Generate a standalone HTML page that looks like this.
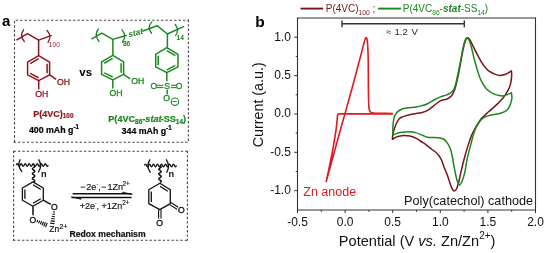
<!DOCTYPE html>
<html><head><meta charset="utf-8"><title>Figure</title>
<style>html,body{margin:0;padding:0;background:#fff;width:550px;height:253px;overflow:hidden} svg{display:block}</style>
</head><body>
<svg width="550" height="253" viewBox="0 0 550 253" font-family="'Liberation Sans', Arial, Helvetica, sans-serif">
<rect width="550" height="253" fill="#fff"/>
<text x="2.0" y="26" font-size="15" fill="#000" font-weight="bold" text-anchor="start" >a</text>
<line x1="15.8" y1="20.3" x2="188.9" y2="20.3" stroke="#444" stroke-width="1.1" stroke-dasharray="2.4 2.0"/>
<line x1="13.6" y1="142.3" x2="188.9" y2="142.3" stroke="#444" stroke-width="1.1" stroke-dasharray="2.4 2.0"/>
<line x1="14.5" y1="20.9" x2="14.5" y2="142.8" stroke="#444" stroke-width="1.1" stroke-dasharray="2.4 2.0"/>
<line x1="188.4" y1="19.8" x2="188.4" y2="142.8" stroke="#444" stroke-width="1.1" stroke-dasharray="2.4 2.0"/>
<polyline points="16.4,40.2 27.5,33.6 38.6,40.1 51.7,35.4" fill="none" stroke="#8e141d" stroke-width="1.5" stroke-linejoin="round"/>
<line x1="38.6" y1="40.1" x2="38.6" y2="55.6" stroke="#8e141d" stroke-width="1.5" />
<path d="M23.60 29.80 Q19.20 35.70 24.40 41.60" fill="none" stroke="#8e141d" stroke-width="1.3" stroke-linecap="round"/>
<path d="M47.10 30.50 Q52.25 36.40 48.00 42.30" fill="none" stroke="#8e141d" stroke-width="1.3" stroke-linecap="round"/>
<text x="48.8" y="47.3" font-size="6.6" fill="#8e141d" font-weight="normal" text-anchor="start" >100</text>
<polygon points="38.70,55.60 49.60,62.20 49.60,74.80 38.70,80.60 27.60,74.80 27.60,62.20" fill="none" stroke="#8e141d" stroke-width="1.5" stroke-linejoin="round"/>
<line x1="30.19" y1="63.57" x2="38.62" y2="58.56" stroke="#8e141d" stroke-width="1.5"/>
<line x1="47.10" y1="63.68" x2="47.10" y2="73.26" stroke="#8e141d" stroke-width="1.5"/>
<line x1="38.63" y1="77.75" x2="30.20" y2="73.34" stroke="#8e141d" stroke-width="1.5"/>
<line x1="49.6" y1="74.8" x2="56.2" y2="79.4" stroke="#8e141d" stroke-width="1.5" />
<line x1="38.7" y1="80.6" x2="38.7" y2="89.4" stroke="#8e141d" stroke-width="1.5" />
<text x="57.0" y="84.5" font-size="8.7" fill="#8e141d" font-weight="normal" text-anchor="start" stroke="#8e141d" stroke-width="0.3">OH</text>
<text x="35.2" y="97.4" font-size="8.7" fill="#8e141d" font-weight="normal" text-anchor="start" stroke="#8e141d" stroke-width="0.3">OH</text>
<text x="79.3" y="75.8" font-size="11.5" fill="#000" font-weight="bold" text-anchor="start" >vs</text>
<text x="33.3" y="116.7" font-size="9" fill="#8e141d" stroke="#8e141d" stroke-width="0.2" font-weight="bold">P(4VC)<tspan font-size="6.4" dy="1.7">100</tspan></text>
<text x="28.9" y="132.7" font-size="8.8" fill="#000" stroke="#000" stroke-width="0.2" font-weight="bold">400 mAh g<tspan font-size="6.3" dy="-3.3">-1</tspan></text>
<polyline points="91.4,39.2 101.8,33.2 112.9,39.4 126.7,35.2" fill="none" stroke="#1c871f" stroke-width="1.5" stroke-linejoin="round"/>
<line x1="112.9" y1="39.4" x2="112.9" y2="55.4" stroke="#1c871f" stroke-width="1.5" />
<path d="M98.30 29.00 Q93.75 35.25 99.00 41.50" fill="none" stroke="#1c871f" stroke-width="1.3" stroke-linecap="round"/>
<path d="M121.90 29.70 Q127.00 35.95 122.50 42.20" fill="none" stroke="#1c871f" stroke-width="1.3" stroke-linecap="round"/>
<text x="122.9" y="46.4" font-size="6.6" fill="#1c871f" font-weight="bold" text-anchor="start" >86</text>
<text x="0" y="0" font-size="8.4" fill="#1c871f" font-weight="bold" font-style="italic" transform="translate(129.0,37.3) rotate(-14)">stat</text>
<polyline points="142.3,31.2 157.1,25.7 167.4,34 184,26.4" fill="none" stroke="#1c871f" stroke-width="1.5" stroke-linejoin="round"/>
<path d="M151.60 22.10 Q146.80 27.65 151.60 33.20" fill="none" stroke="#1c871f" stroke-width="1.3" stroke-linecap="round"/>
<path d="M175.30 24.50 Q179.45 30.00 175.60 35.50" fill="none" stroke="#1c871f" stroke-width="1.3" stroke-linecap="round"/>
<text x="176.6" y="40.4" font-size="6.6" fill="#1c871f" font-weight="bold" text-anchor="start" >14</text>
<line x1="167.4" y1="34" x2="167.4" y2="47.6" stroke="#1c871f" stroke-width="1.5" />
<polygon points="112.80,55.40 123.60,61.90 123.60,74.30 112.80,79.80 101.60,74.30 101.60,61.90" fill="none" stroke="#1c871f" stroke-width="1.5" stroke-linejoin="round"/>
<line x1="104.21" y1="63.27" x2="112.72" y2="58.33" stroke="#1c871f" stroke-width="1.5"/>
<line x1="121.10" y1="63.35" x2="121.10" y2="72.77" stroke="#1c871f" stroke-width="1.5"/>
<line x1="112.74" y1="77.00" x2="104.23" y2="72.82" stroke="#1c871f" stroke-width="1.5"/>
<line x1="123.6" y1="74.3" x2="130.2" y2="78.8" stroke="#1c871f" stroke-width="1.5" />
<line x1="112.8" y1="79.8" x2="112.8" y2="88.6" stroke="#1c871f" stroke-width="1.5" />
<text x="131.2" y="84.0" font-size="8.7" fill="#1c871f" font-weight="normal" text-anchor="start" stroke="#1c871f" stroke-width="0.3">OH</text>
<text x="109.5" y="96.3" font-size="8.7" fill="#1c871f" font-weight="normal" text-anchor="start" stroke="#1c871f" stroke-width="0.3">OH</text>
<polygon points="166.80,47.60 178.00,54.30 178.00,66.80 166.80,72.70 155.70,66.80 155.70,54.30" fill="none" stroke="#1c871f" stroke-width="1.5" stroke-linejoin="round"/>
<line x1="166.88" y1="50.56" x2="175.39" y2="55.65" stroke="#1c871f" stroke-width="1.5"/>
<line x1="158.20" y1="65.27" x2="158.20" y2="55.77" stroke="#1c871f" stroke-width="1.5"/>
<line x1="175.38" y1="65.36" x2="166.86" y2="69.84" stroke="#1c871f" stroke-width="1.5"/>
<line x1="166.8" y1="72.7" x2="166.8" y2="81.2" stroke="#1c871f" stroke-width="1.5" />
<text x="167.2" y="89.3" font-size="8.6" fill="#1c871f" font-weight="normal" text-anchor="middle" stroke="#1c871f" stroke-width="0.3">S</text>
<text x="153.9" y="89.3" font-size="8.6" fill="#1c871f" font-weight="normal" text-anchor="middle" stroke="#1c871f" stroke-width="0.3">O</text>
<text x="179.1" y="89.3" font-size="8.6" fill="#1c871f" font-weight="normal" text-anchor="middle" stroke="#1c871f" stroke-width="0.3">O</text>
<line x1="156.9" y1="85.3" x2="163.3" y2="85.3" stroke="#1c871f" stroke-width="1.1" />
<line x1="156.9" y1="87.6" x2="163.3" y2="87.6" stroke="#1c871f" stroke-width="1.1" />
<line x1="171.0" y1="85.3" x2="176.3" y2="85.3" stroke="#1c871f" stroke-width="1.1" />
<line x1="171.0" y1="87.6" x2="176.3" y2="87.6" stroke="#1c871f" stroke-width="1.1" />
<line x1="167.2" y1="89.8" x2="167.2" y2="94.3" stroke="#1c871f" stroke-width="1.5" />
<text x="166.6" y="101.2" font-size="8.6" fill="#1c871f" font-weight="normal" text-anchor="middle" stroke="#1c871f" stroke-width="0.3">O</text>
<circle cx="174.9" cy="101.7" r="3.7" fill="none" stroke="#1c871f" stroke-width="1.1"/>
<text x="174.9" y="104.2" font-size="8" fill="#1c871f" font-weight="bold" text-anchor="middle" >−</text>
<text x="108.3" y="122.1" font-size="9.1" fill="#1c871f" stroke="#1c871f" stroke-width="0.2" font-weight="bold">P(4VC<tspan font-size="6.5" dy="1.6">86</tspan><tspan dy="-1.6">-</tspan><tspan font-style="italic">stat</tspan><tspan dx="-0.9">-SS</tspan><tspan font-size="6.5" dy="1.6">14</tspan><tspan dy="-1.6">)</tspan></text>
<text x="121.6" y="133.6" font-size="8.8" fill="#000" stroke="#000" stroke-width="0.2" font-weight="bold">344 mAh g<tspan font-size="6.3" dy="-3.3">-1</tspan></text>
<line x1="13.55" y1="151.3" x2="187.9" y2="151.3" stroke="#444" stroke-width="1.1" stroke-dasharray="2.4 2.0"/>
<line x1="13.1" y1="240.3" x2="187.9" y2="240.3" stroke="#444" stroke-width="1.1" stroke-dasharray="2.4 2.0"/>
<line x1="13.6" y1="150.8" x2="13.6" y2="240.8" stroke="#444" stroke-width="1.1" stroke-dasharray="2.4 2.0"/>
<line x1="187.4" y1="150.8" x2="187.4" y2="240.8" stroke="#444" stroke-width="1.1" stroke-dasharray="2.4 2.0"/>
<path d="M16.20 165.00 q1.00 -2.60 2.00 0 q1.00 2.60 2.00 0 q1.00 -2.60 2.00 0 q1.00 2.60 2.00 0 q1.00 -2.60 2.00 0 q1.00 2.60 2.00 0 q1.00 -2.60 2.00 0 q1.00 2.60 2.00 0 q1.00 -2.60 2.00 0 q1.00 2.60 2.00 0 q1.00 -2.60 2.00 0 q1.00 2.60 2.00 0 q1.00 -2.60 2.00 0 q1.00 2.60 2.00 0 q1.00 -2.60 2.00 0 q1.00 2.60 2.00 0" fill="none" stroke="#111" stroke-width="1.35"/>
<path d="M20.10 159.80 Q17.05 165.70 21.80 171.60" fill="none" stroke="#111" stroke-width="1.3" stroke-linecap="round"/>
<path d="M38.90 159.80 Q42.55 165.90 38.40 172.00" fill="none" stroke="#111" stroke-width="1.3" stroke-linecap="round"/>
<path d="M33.60 165.20 q2.40 1.20 0 2.40 q-2.40 1.20 0 2.40 q2.40 1.20 0 2.40 q-2.40 1.20 0 2.40 q2.40 1.20 0 2.40 q-2.40 1.20 0 2.40 q2.40 1.20 0 2.40" fill="none" stroke="#111" stroke-width="1.55"/>
<text x="40.9" y="176.9" font-size="9.2" fill="#111" font-weight="bold" text-anchor="start" >n</text>
<polygon points="33.00,181.90 43.30,188.00 43.30,200.20 33.00,206.20 22.40,200.20 22.40,188.00" fill="none" stroke="#111" stroke-width="1.3" stroke-linejoin="round"/>
<line x1="32.99" y1="184.80" x2="40.82" y2="189.44" stroke="#111" stroke-width="1.3"/>
<line x1="24.90" y1="198.73" x2="24.90" y2="189.46" stroke="#111" stroke-width="1.3"/>
<line x1="40.82" y1="198.75" x2="32.99" y2="203.31" stroke="#111" stroke-width="1.3"/>
<line x1="43.3" y1="200.2" x2="50.8" y2="204.3" stroke="#111" stroke-width="1.5" />
<line x1="33.0" y1="206.2" x2="33.0" y2="215.3" stroke="#111" stroke-width="1.5" />
<text x="54.3" y="209.9" font-size="8.6" fill="#111" font-weight="normal" text-anchor="middle" stroke="#111" stroke-width="0.3">O</text>
<text x="32.9" y="223.1" font-size="8.6" fill="#111" font-weight="normal" text-anchor="middle" stroke="#111" stroke-width="0.3">O</text>
<line x1="54.99" y1="212.04" x2="53.01" y2="211.76" stroke="#111" stroke-width="1.15" />
<line x1="54.93" y1="214.37" x2="52.43" y2="214.03" stroke="#111" stroke-width="1.15" />
<line x1="54.87" y1="216.71" x2="51.85" y2="216.29" stroke="#111" stroke-width="1.15" />
<line x1="54.8" y1="219.05" x2="51.28" y2="218.55" stroke="#111" stroke-width="1.15" />
<line x1="54.74" y1="221.38" x2="50.7" y2="220.82" stroke="#111" stroke-width="1.15" />
<line x1="54.68" y1="223.72" x2="50.12" y2="223.08" stroke="#111" stroke-width="1.15" />
<line x1="37.87" y1="220.09" x2="36.93" y2="222.31" stroke="#111" stroke-width="1.15" />
<line x1="39.75" y1="220.65" x2="38.65" y2="223.27" stroke="#111" stroke-width="1.15" />
<line x1="41.64" y1="221.21" x2="40.36" y2="224.23" stroke="#111" stroke-width="1.15" />
<line x1="43.52" y1="221.77" x2="42.08" y2="225.19" stroke="#111" stroke-width="1.15" />
<line x1="45.41" y1="222.32" x2="43.79" y2="226.16" stroke="#111" stroke-width="1.15" />
<line x1="47.29" y1="222.88" x2="45.51" y2="227.12" stroke="#111" stroke-width="1.15" />
<text x="49.2" y="231.8" font-size="8.5" fill="#111" stroke="#111" stroke-width="0.2">Zn<tspan dx="0.5" font-size="6.8" dy="-3.0">2+</tspan></text>
<line x1="72.6" y1="193.7" x2="131.5" y2="193.7" stroke="#111" stroke-width="1.4" />
<path d="M122.6 192.0 L132.4 194.4 L122.6 193.2 Z" fill="#111" stroke="#111" stroke-width="0.6"/>
<line x1="71.6" y1="197.5" x2="131.6" y2="197.5" stroke="#111" stroke-width="1.4" />
<path d="M81.0 199.3 L71.2 197.0 L81.0 198.2 Z" fill="#111" stroke="#111" stroke-width="0.6"/>
<text y="190.4" font-size="9" fill="#111" stroke="#111" stroke-width="0.15"><tspan x="80.3">−</tspan><tspan x="86.3">2e</tspan><tspan x="96.4" font-size="4.6" dy="-4.6">-</tspan><tspan x="98.3" dy="4.6">,</tspan><tspan x="101.1">−</tspan><tspan x="107.5">1Zn</tspan><tspan x="122.6" font-size="6.3" dy="-4.2">2+</tspan></text>
<text x="79.7" y="209.4" font-size="9" fill="#111" stroke="#111" stroke-width="0.15">+2e<tspan font-size="4.6" dy="-4.6">-</tspan><tspan dy="4.6">, +1Zn</tspan><tspan font-size="6.3" dy="-4.2">2+</tspan></text>
<path d="M144.50 165.40 q1.00 -2.60 2.00 0 q1.00 2.60 2.00 0 q1.00 -2.60 2.00 0 q1.00 2.60 2.00 0 q1.00 -2.60 2.00 0 q1.00 2.60 2.00 0 q1.00 -2.60 2.00 0 q1.00 2.60 2.00 0 q1.00 -2.60 2.00 0 q1.00 2.60 2.00 0 q1.00 -2.60 2.00 0 q1.00 2.60 2.00 0 q1.00 -2.60 2.00 0 q1.00 2.60 2.00 0 q1.00 -2.60 2.00 0 q1.00 2.60 2.00 0" fill="none" stroke="#111" stroke-width="1.35"/>
<path d="M149.80 159.80 Q145.80 166.00 150.20 172.20" fill="none" stroke="#111" stroke-width="1.3" stroke-linecap="round"/>
<path d="M166.40 159.80 Q170.40 166.00 166.80 172.20" fill="none" stroke="#111" stroke-width="1.3" stroke-linecap="round"/>
<path d="M160.00 165.60 q2.40 1.20 0 2.40 q-2.40 1.20 0 2.40 q2.40 1.20 0 2.40 q-2.40 1.20 0 2.40 q2.40 1.20 0 2.40 q-2.40 1.20 0 2.40 q2.40 1.20 0 2.40" fill="none" stroke="#111" stroke-width="1.55"/>
<text x="168.6" y="177.1" font-size="9.2" fill="#111" font-weight="bold" text-anchor="start" >n</text>
<polygon points="159.90,183.30 170.30,189.80 170.30,203.60 159.80,209.60 148.80,203.60 148.80,189.80" fill="none" stroke="#111" stroke-width="1.3" stroke-linejoin="round"/>
<line x1="159.96" y1="186.28" x2="167.86" y2="191.22" stroke="#111" stroke-width="1.3"/>
<line x1="151.30" y1="201.92" x2="151.30" y2="191.44" stroke="#111" stroke-width="1.3"/>
<line x1="169.66" y1="204.62" x2="176.96" y2="209.22" stroke="#111" stroke-width="1.1" /><line x1="170.94" y1="202.58" x2="178.24" y2="207.18" stroke="#111" stroke-width="1.1" />
<line x1="158.6" y1="209.6" x2="158.6" y2="218.6" stroke="#111" stroke-width="1.1" /><line x1="161.0" y1="209.6" x2="161.0" y2="218.6" stroke="#111" stroke-width="1.1" />
<text x="181.3" y="213.3" font-size="8.6" fill="#111" font-weight="normal" text-anchor="middle" stroke="#111" stroke-width="0.3">O</text>
<text x="159.6" y="225.9" font-size="8.6" fill="#111" font-weight="normal" text-anchor="middle" stroke="#111" stroke-width="0.3">O</text>
<text x="69.6" y="236.7" font-size="8.6" fill="#111" font-weight="bold" text-anchor="start" stroke="#111" stroke-width="0.2">Redox mechanism</text>
<text x="255.2" y="26.9" font-size="15.5" fill="#000" font-weight="bold" text-anchor="start" >b</text>
<line x1="300.5" y1="8.6" x2="323.1" y2="8.6" stroke="#78131a" stroke-width="1.9" />
<text x="325.8" y="11.8" font-size="10" fill="#78131a">P(4VC)<tspan font-size="6.7" dy="3.1">100</tspan><tspan dy="-3.1"> ;</tspan></text>
<line x1="378.1" y1="8.6" x2="401" y2="8.6" stroke="#1c871f" stroke-width="1.9" />
<text x="402.8" y="11.8" font-size="10" fill="#1c871f">P(4VC<tspan font-size="6.6" dy="3.1">86</tspan><tspan dy="-3.1">-</tspan><tspan font-style="italic" font-weight="bold">stat</tspan>-SS<tspan font-size="6.6" dy="3.1">14</tspan><tspan dy="-3.1">)</tspan></text>
<line x1="297.5" y1="17.5" x2="297.5" y2="210.5" stroke="#333" stroke-width="1.1" />
<line x1="535.5" y1="17.5" x2="535.5" y2="210.5" stroke="#333" stroke-width="1.1" />
<line x1="297.5" y1="18.0" x2="535.5" y2="18.0" stroke="#333" stroke-width="1" />
<line x1="297.5" y1="210.0" x2="535.5" y2="210.0" stroke="#333" stroke-width="1" />
<line x1="294.2" y1="37.25" x2="297.5" y2="37.25" stroke="#333" stroke-width="1" />
<text x="290.9" y="40.75" font-size="12" fill="#111" font-weight="normal" text-anchor="end" >1.0</text>
<line x1="294.2" y1="75.6" x2="297.5" y2="75.6" stroke="#333" stroke-width="1" />
<text x="290.9" y="79.1" font-size="12" fill="#111" font-weight="normal" text-anchor="end" >0.5</text>
<line x1="294.2" y1="113.95" x2="297.5" y2="113.95" stroke="#333" stroke-width="1" />
<text x="290.9" y="117.45" font-size="12" fill="#111" font-weight="normal" text-anchor="end" >0.0</text>
<line x1="294.2" y1="152.3" x2="297.5" y2="152.3" stroke="#333" stroke-width="1" />
<text x="290.9" y="155.8" font-size="12" fill="#111" font-weight="normal" text-anchor="end" >-0.5</text>
<line x1="294.2" y1="190.65" x2="297.5" y2="190.65" stroke="#333" stroke-width="1" />
<text x="290.9" y="194.15" font-size="12" fill="#111" font-weight="normal" text-anchor="end" >-1.0</text>
<line x1="295.7" y1="56.42" x2="297.5" y2="56.42" stroke="#333" stroke-width="1" />
<line x1="295.7" y1="94.78" x2="297.5" y2="94.78" stroke="#333" stroke-width="1" />
<line x1="295.7" y1="133.12" x2="297.5" y2="133.12" stroke="#333" stroke-width="1" />
<line x1="295.7" y1="171.48" x2="297.5" y2="171.48" stroke="#333" stroke-width="1" />
<line x1="297.5" y1="210.0" x2="297.5" y2="213.0" stroke="#333" stroke-width="1" />
<text x="297.5" y="226.1" font-size="12" fill="#111" font-weight="normal" text-anchor="middle" >-0.5</text>
<line x1="345.1" y1="210.0" x2="345.1" y2="213.0" stroke="#333" stroke-width="1" />
<text x="345.1" y="226.1" font-size="12" fill="#111" font-weight="normal" text-anchor="middle" >0.0</text>
<line x1="392.7" y1="210.0" x2="392.7" y2="213.0" stroke="#333" stroke-width="1" />
<text x="392.7" y="226.1" font-size="12" fill="#111" font-weight="normal" text-anchor="middle" >0.5</text>
<line x1="440.3" y1="210.0" x2="440.3" y2="213.0" stroke="#333" stroke-width="1" />
<text x="440.3" y="226.1" font-size="12" fill="#111" font-weight="normal" text-anchor="middle" >1.0</text>
<line x1="487.9" y1="210.0" x2="487.9" y2="213.0" stroke="#333" stroke-width="1" />
<text x="487.9" y="226.1" font-size="12" fill="#111" font-weight="normal" text-anchor="middle" >1.5</text>
<line x1="535.5" y1="210.0" x2="535.5" y2="213.0" stroke="#333" stroke-width="1" />
<text x="535.5" y="226.1" font-size="12" fill="#111" font-weight="normal" text-anchor="middle" >2.0</text>
<line x1="321.3" y1="210.0" x2="321.3" y2="211.8" stroke="#333" stroke-width="1" />
<line x1="368.9" y1="210.0" x2="368.9" y2="211.8" stroke="#333" stroke-width="1" />
<line x1="416.5" y1="210.0" x2="416.5" y2="211.8" stroke="#333" stroke-width="1" />
<line x1="464.1" y1="210.0" x2="464.1" y2="211.8" stroke="#333" stroke-width="1" />
<line x1="511.7" y1="210.0" x2="511.7" y2="211.8" stroke="#333" stroke-width="1" />
<text transform="translate(262.5,104.8) rotate(-90)" font-size="14.3" fill="#111" text-anchor="middle">Current (a.u.)</text>
<text x="338.8" y="245.7" font-size="14.6" fill="#111">Potential (V <tspan font-style="italic">vs.</tspan> Zn/Zn<tspan font-size="10" dy="-6.7">2+</tspan><tspan dy="6.7">)</tspan></text>
<line x1="342.0" y1="23.7" x2="464.3" y2="23.7" stroke="#333" stroke-width="1.5" />
<line x1="342.0" y1="20.6" x2="342.0" y2="27.3" stroke="#333" stroke-width="1.4" />
<line x1="464.3" y1="20.6" x2="464.3" y2="27.3" stroke="#333" stroke-width="1.4" />
<text x="386.3" y="34.6" font-size="9.0" fill="#222" font-weight="normal" text-anchor="start" >≈</text>
<text x="394.5" y="34.8" font-size="9.5" fill="#222" font-weight="normal" text-anchor="start" word-spacing="1.2">1.2 V</text>
<path d="M392.9 113.9 L339.3 113.9 Q337.7 113.9 337.5 115.6 Q336.5 135 326.2 181.5 C328.57 172.92 337.28 141.27 340.40 130.00 C343.52 118.73 343.50 118.90 344.90 113.90 C346.30 108.90 347.47 104.82 348.80 100.00 C350.13 95.18 351.10 91.67 352.90 85.00 C354.70 78.33 357.98 66.08 359.60 60.00 C361.22 53.92 361.77 51.70 362.60 48.50 C363.43 45.30 364.03 42.63 364.60 40.80 C365.17 38.97 365.57 37.63 366.00 37.50 C366.43 37.37 366.90 38.42 367.20 40.00 C367.50 41.58 367.63 43.67 367.80 47.00 C367.97 50.33 368.10 52.83 368.20 60.00 C368.30 67.17 368.30 82.33 368.40 90.00 C368.50 97.67 368.60 102.58 368.80 106.00 C369.00 109.42 369.23 109.45 369.60 110.50 C369.97 111.55 370.35 111.88 371.00 112.30 C371.65 112.72 372.00 112.83 373.50 113.00 C375.00 113.17 376.77 113.22 380.00 113.30 C383.23 113.38 390.75 113.47 392.90 113.50" fill="none" stroke="#e01a22" stroke-width="1.6" stroke-linejoin="round"/>
<path d="M392.40 139.80 C392.47 138.83 392.50 135.72 392.80 134.00 C393.10 132.28 393.65 131.17 394.20 129.50 C394.75 127.83 395.23 125.83 396.10 124.00 C396.97 122.17 398.22 119.73 399.40 118.50 C400.58 117.27 401.93 117.12 403.20 116.60 C404.47 116.08 405.53 115.80 407.00 115.40 C408.47 115.00 410.50 114.52 412.00 114.20 C413.50 113.88 414.45 113.75 416.00 113.50 C417.55 113.25 419.37 113.23 421.30 112.70 C423.23 112.17 425.48 111.48 427.60 110.30 C429.72 109.12 431.88 107.18 434.00 105.60 C436.12 104.02 438.20 101.87 440.30 100.80 C442.40 99.73 444.75 99.98 446.60 99.20 C448.45 98.42 450.05 97.70 451.40 96.10 C452.75 94.50 453.73 92.28 454.70 89.60 C455.67 86.92 456.32 83.93 457.20 80.00 C458.08 76.07 459.03 71.00 460.00 66.00 C460.97 61.00 462.12 54.17 463.00 50.00 C463.88 45.83 464.52 43.03 465.30 41.00 C466.08 38.97 466.92 37.97 467.70 37.80 C468.48 37.63 469.27 38.93 470.00 40.00 C470.73 41.07 470.95 41.92 472.10 44.20 C473.25 46.48 475.20 50.50 476.90 53.70 C478.60 56.90 480.62 60.78 482.30 63.40 C483.98 66.02 485.63 67.97 487.00 69.40 C488.37 70.83 489.22 71.22 490.50 72.00 C491.78 72.78 493.07 73.53 494.70 74.10 C496.33 74.67 498.47 75.37 500.30 75.40 C502.13 75.43 503.85 75.07 505.70 74.30 C507.55 73.53 510.45 71.38 511.40 70.80 C511.45 71.50 511.78 73.12 511.70 75.00 C511.62 76.88 511.28 80.02 510.90 82.10 C510.52 84.18 510.00 85.93 509.40 87.50 C508.80 89.07 508.15 90.02 507.30 91.50 C506.45 92.98 505.35 94.93 504.30 96.40 C503.25 97.87 502.10 99.10 501.00 100.30 C499.90 101.50 499.20 102.17 497.70 103.60 C496.20 105.03 493.62 107.45 492.00 108.90 C490.38 110.35 489.25 111.18 488.00 112.30 C486.75 113.42 485.63 114.52 484.50 115.60 C483.37 116.68 482.23 117.53 481.20 118.80 C480.17 120.07 479.33 121.58 478.30 123.20 C477.27 124.82 476.15 126.40 475.00 128.50 C473.85 130.60 472.67 132.62 471.40 135.80 C470.13 138.98 468.60 143.78 467.40 147.60 C466.20 151.42 465.25 154.73 464.20 158.70 C463.15 162.67 462.05 167.35 461.10 171.40 C460.15 175.45 459.27 180.07 458.50 183.00 C457.73 185.93 457.22 187.65 456.50 189.00 C455.78 190.35 454.92 191.10 454.20 191.10 C453.48 191.10 452.80 190.00 452.20 189.00 C451.60 188.00 451.42 187.43 450.60 185.10 C449.78 182.77 448.32 177.82 447.30 175.00 C446.28 172.18 445.47 170.70 444.50 168.20 C443.53 165.70 442.42 162.07 441.50 160.00 C440.58 157.93 439.95 157.10 439.00 155.80 C438.05 154.50 436.98 153.25 435.80 152.20 C434.62 151.15 433.20 150.48 431.90 149.50 C430.60 148.52 429.32 147.35 428.00 146.30 C426.68 145.25 425.17 144.00 424.00 143.20 C422.83 142.40 422.28 142.30 421.00 141.50 C419.72 140.70 418.13 139.30 416.30 138.40 C414.47 137.50 412.05 136.60 410.00 136.10 C407.95 135.60 406.00 135.35 404.00 135.40 C402.00 135.45 399.58 136.00 398.00 136.40 C396.42 136.80 395.43 137.23 394.50 137.80 C393.57 138.37 392.75 139.47 392.40 139.80" fill="none" stroke="#78131a" stroke-width="1.5" stroke-linejoin="round"/>
<path d="M392.90 135.20 C392.88 134.33 392.80 131.45 392.80 130.00 C392.80 128.55 392.80 127.92 392.90 126.50 C393.00 125.08 393.12 123.23 393.40 121.50 C393.68 119.77 393.92 117.70 394.60 116.10 C395.28 114.50 396.23 113.08 397.50 111.90 C398.77 110.72 400.62 109.63 402.20 109.00 C403.78 108.37 405.37 108.37 407.00 108.10 C408.63 107.83 410.50 107.60 412.00 107.40 C413.50 107.20 414.45 107.15 416.00 106.90 C417.55 106.65 419.37 106.43 421.30 105.90 C423.23 105.37 425.48 104.68 427.60 103.70 C429.72 102.72 431.88 101.13 434.00 100.00 C436.12 98.87 438.38 97.67 440.30 96.90 C442.22 96.13 443.85 96.03 445.50 95.40 C447.15 94.77 448.85 94.03 450.20 93.10 C451.55 92.17 452.72 91.23 453.60 89.80 C454.48 88.37 454.98 86.17 455.50 84.50 C456.02 82.83 456.02 82.90 456.70 79.80 C457.38 76.70 458.62 70.87 459.60 65.90 C460.58 60.93 461.73 54.15 462.60 50.00 C463.47 45.85 464.10 43.05 464.80 41.00 C465.50 38.95 466.13 37.95 466.80 37.70 C467.47 37.45 468.18 38.45 468.80 39.50 C469.42 40.55 469.95 42.25 470.50 44.00 C471.05 45.75 471.43 47.33 472.10 50.00 C472.77 52.67 473.63 56.67 474.50 60.00 C475.37 63.33 476.33 66.87 477.30 70.00 C478.27 73.13 479.35 76.47 480.30 78.80 C481.25 81.13 482.00 82.35 483.00 84.00 C484.00 85.65 484.70 87.13 486.30 88.70 C487.90 90.27 490.22 92.22 492.60 93.40 C494.98 94.58 498.48 95.47 500.60 95.80 C502.72 96.13 503.50 95.90 505.30 95.40 C507.10 94.90 510.38 93.23 511.40 92.80 C511.48 93.72 512.05 96.43 511.90 98.30 C511.75 100.17 511.28 102.05 510.50 104.00 C509.72 105.95 508.85 108.47 507.20 110.00 C505.55 111.53 503.03 112.40 500.60 113.20 C498.17 114.00 495.13 114.20 492.60 114.80 C490.07 115.40 487.17 116.10 485.40 116.80 C483.63 117.50 483.02 118.13 482.00 119.00 C480.98 119.87 480.27 120.62 479.30 122.00 C478.33 123.38 477.20 125.13 476.20 127.30 C475.20 129.47 474.27 131.87 473.30 135.00 C472.33 138.13 471.42 142.15 470.40 146.10 C469.38 150.05 468.15 154.23 467.20 158.70 C466.25 163.17 465.62 169.02 464.70 172.90 C463.78 176.78 462.58 180.00 461.70 182.00 C460.82 184.00 460.13 185.02 459.40 184.90 C458.67 184.78 457.98 183.30 457.30 181.30 C456.62 179.30 455.88 175.62 455.30 172.90 C454.72 170.18 454.25 167.48 453.80 165.00 C453.35 162.52 453.02 160.17 452.60 158.00 C452.18 155.83 451.70 153.57 451.30 152.00 C450.90 150.43 450.65 149.77 450.20 148.60 C449.75 147.43 449.27 146.18 448.60 145.00 C447.93 143.82 447.05 142.50 446.20 141.50 C445.35 140.50 444.53 139.60 443.50 139.00 C442.47 138.40 441.42 138.13 440.00 137.90 C438.58 137.67 437.10 137.72 435.00 137.60 C432.90 137.48 429.47 137.58 427.40 137.20 C425.33 136.82 424.45 136.02 422.60 135.30 C420.75 134.58 418.40 133.48 416.30 132.90 C414.20 132.32 412.32 131.92 410.00 131.80 C407.68 131.68 404.73 131.90 402.40 132.20 C400.07 132.50 397.58 133.10 396.00 133.60 C394.42 134.10 393.42 134.93 392.90 135.20" fill="none" stroke="#1c871f" stroke-width="1.5" stroke-linejoin="round"/>
<text x="303.3" y="196" font-size="12.5" fill="#d01e26" font-weight="normal" text-anchor="start" >Zn anode</text>
<text x="404.1" y="204.6" font-size="12.7" fill="#111" font-weight="normal" text-anchor="start" >Poly(catechol) cathode</text>
</svg>
</body></html>
